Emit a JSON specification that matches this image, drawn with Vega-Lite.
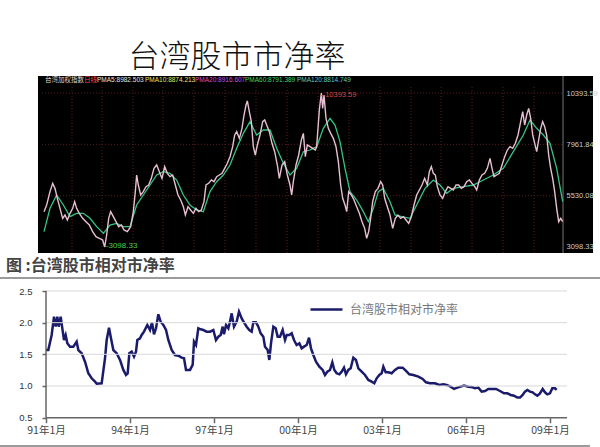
{
"$schema": "https://vega.github.io/schema/vega-lite/v6.json",
"width": 600, "height": 447, "autosize": {"type": "none"}, "padding": 0, "background": "white",
"config": {"view": {"stroke": null}},
"datasets": {
"price": [{"t":1991.000,"p":4772},{"t":1991.092,"p":5088},{"t":1991.207,"p":5720},{"t":1991.299,"p":6114},{"t":1991.379,"p":5877},{"t":1991.460,"p":5404},{"t":1991.552,"p":4930},{"t":1991.644,"p":4456},{"t":1991.724,"p":4614},{"t":1991.805,"p":4377},{"t":1991.897,"p":4693},{"t":1991.989,"p":4930},{"t":1992.057,"p":5246},{"t":1992.126,"p":4930},{"t":1992.218,"p":4693},{"t":1992.333,"p":4456},{"t":1992.448,"p":4298},{"t":1992.563,"p":4140},{"t":1992.678,"p":3825},{"t":1992.793,"p":3588},{"t":1992.908,"p":3509},{"t":1993.023,"p":3430},{"t":1993.092,"p":3098.33},{"t":1993.161,"p":3667},{"t":1993.230,"p":4456},{"t":1993.299,"p":4772},{"t":1993.391,"p":4535},{"t":1993.483,"p":4298},{"t":1993.575,"p":4061},{"t":1993.667,"p":4140},{"t":1993.759,"p":3904},{"t":1993.874,"p":3825},{"t":1993.989,"p":4061},{"t":1994.080,"p":4772},{"t":1994.149,"p":5720},{"t":1994.195,"p":6509},{"t":1994.253,"p":6035},{"t":1994.333,"p":5562},{"t":1994.425,"p":5720},{"t":1994.517,"p":5956},{"t":1994.609,"p":6035},{"t":1994.701,"p":6351},{"t":1994.793,"p":6825},{"t":1994.885,"p":6983},{"t":1994.977,"p":6667},{"t":1995.069,"p":6351},{"t":1995.161,"p":6904},{"t":1995.253,"p":6588},{"t":1995.345,"p":6430},{"t":1995.437,"p":6509},{"t":1995.529,"p":6035},{"t":1995.621,"p":5562},{"t":1995.713,"p":5325},{"t":1995.805,"p":5009},{"t":1995.874,"p":4614},{"t":1995.966,"p":5009},{"t":1996.057,"p":4851},{"t":1996.149,"p":4693},{"t":1996.241,"p":4930},{"t":1996.333,"p":4772},{"t":1996.425,"p":4851},{"t":1996.517,"p":5246},{"t":1996.586,"p":6035},{"t":1996.678,"p":6114},{"t":1996.770,"p":6272},{"t":1996.862,"p":6193},{"t":1996.954,"p":6430},{"t":1997.046,"p":6509},{"t":1997.138,"p":6588},{"t":1997.230,"p":6825},{"t":1997.322,"p":7062},{"t":1997.414,"p":7378},{"t":1997.506,"p":7851},{"t":1997.575,"p":8404},{"t":1997.644,"p":8562},{"t":1997.736,"p":8246},{"t":1997.828,"p":8720},{"t":1997.897,"p":9351},{"t":1997.966,"p":9825},{"t":1998.011,"p":10015},{"t":1998.080,"p":9509},{"t":1998.149,"p":9036},{"t":1998.218,"p":7851},{"t":1998.287,"p":7457},{"t":1998.356,"p":7930},{"t":1998.448,"p":8404},{"t":1998.540,"p":9036},{"t":1998.609,"p":9115},{"t":1998.678,"p":8878},{"t":1998.770,"p":8562},{"t":1998.862,"p":8009},{"t":1998.954,"p":7614},{"t":1999.046,"p":6983},{"t":1999.115,"p":6351},{"t":1999.207,"p":6983},{"t":1999.299,"p":7141},{"t":1999.391,"p":6509},{"t":1999.483,"p":6035},{"t":1999.540,"p":5562},{"t":1999.598,"p":6193},{"t":1999.690,"p":6983},{"t":1999.782,"p":7457},{"t":1999.874,"p":8167},{"t":1999.943,"p":8483},{"t":2000.011,"p":7378},{"t":2000.080,"p":7930},{"t":2000.172,"p":7851},{"t":2000.264,"p":7772},{"t":2000.356,"p":7693},{"t":2000.402,"p":7851},{"t":2000.494,"p":9588},{"t":2000.563,"p":10393.59},{"t":2000.609,"p":9667},{"t":2000.655,"p":10299},{"t":2000.724,"p":9194},{"t":2000.805,"p":8720},{"t":2000.885,"p":8483},{"t":2000.977,"p":8246},{"t":2001.069,"p":7851},{"t":2001.149,"p":7141},{"t":2001.230,"p":6035},{"t":2001.299,"p":5404},{"t":2001.379,"p":5088},{"t":2001.437,"p":4772},{"t":2001.506,"p":5720},{"t":2001.598,"p":5562},{"t":2001.690,"p":5325},{"t":2001.782,"p":5009},{"t":2001.874,"p":4693},{"t":2001.966,"p":4298},{"t":2002.057,"p":3983},{"t":2002.126,"p":3509},{"t":2002.195,"p":3825},{"t":2002.264,"p":4456},{"t":2002.333,"p":5246},{"t":2002.425,"p":5720},{"t":2002.517,"p":5877},{"t":2002.609,"p":6193},{"t":2002.678,"p":6035},{"t":2002.747,"p":5404},{"t":2002.839,"p":5009},{"t":2002.931,"p":4614},{"t":2003.023,"p":3983},{"t":2003.115,"p":4456},{"t":2003.207,"p":4614},{"t":2003.299,"p":4456},{"t":2003.391,"p":4535},{"t":2003.483,"p":4377},{"t":2003.575,"p":4219},{"t":2003.667,"p":4535},{"t":2003.759,"p":5088},{"t":2003.851,"p":5562},{"t":2003.943,"p":5798},{"t":2004.034,"p":6035},{"t":2004.126,"p":6351},{"t":2004.218,"p":6035},{"t":2004.287,"p":6667},{"t":2004.356,"p":6904},{"t":2004.425,"p":6588},{"t":2004.494,"p":6509},{"t":2004.563,"p":5956},{"t":2004.655,"p":5562},{"t":2004.747,"p":5404},{"t":2004.839,"p":5720},{"t":2004.931,"p":5956},{"t":2005.023,"p":5877},{"t":2005.115,"p":5798},{"t":2005.207,"p":6035},{"t":2005.299,"p":6035},{"t":2005.391,"p":5877},{"t":2005.483,"p":5956},{"t":2005.575,"p":6193},{"t":2005.667,"p":6272},{"t":2005.759,"p":6114},{"t":2005.851,"p":5956},{"t":2005.920,"p":5798},{"t":2006.011,"p":6272},{"t":2006.103,"p":6509},{"t":2006.195,"p":6588},{"t":2006.287,"p":6825},{"t":2006.379,"p":7299},{"t":2006.448,"p":6825},{"t":2006.517,"p":6430},{"t":2006.609,"p":6509},{"t":2006.701,"p":6588},{"t":2006.793,"p":6983},{"t":2006.885,"p":7378},{"t":2006.977,"p":7693},{"t":2007.069,"p":7851},{"t":2007.161,"p":7772},{"t":2007.253,"p":8009},{"t":2007.345,"p":8404},{"t":2007.437,"p":9036},{"t":2007.506,"p":9509},{"t":2007.575,"p":8878},{"t":2007.644,"p":9351},{"t":2007.713,"p":9667},{"t":2007.782,"p":9194},{"t":2007.851,"p":8404},{"t":2007.920,"p":8009},{"t":2007.989,"p":7614},{"t":2008.057,"p":8167},{"t":2008.126,"p":8720},{"t":2008.195,"p":9036},{"t":2008.264,"p":8799},{"t":2008.333,"p":8404},{"t":2008.402,"p":7457},{"t":2008.471,"p":6825},{"t":2008.540,"p":6351},{"t":2008.609,"p":5720},{"t":2008.678,"p":4930},{"t":2008.747,"p":4298},{"t":2008.816,"p":4456},{"t":2008.885,"p":4298}],
"ma": [{"t":1991.000,"p":3825},{"t":1991.207,"p":4930},{"t":1991.437,"p":5562},{"t":1991.667,"p":5088},{"t":1991.897,"p":4535},{"t":1992.126,"p":4693},{"t":1992.356,"p":4693},{"t":1992.586,"p":4456},{"t":1992.816,"p":4061},{"t":1993.046,"p":3746},{"t":1993.276,"p":4140},{"t":1993.506,"p":4219},{"t":1993.736,"p":4061},{"t":1993.966,"p":4061},{"t":1994.195,"p":5088},{"t":1994.425,"p":5562},{"t":1994.655,"p":6035},{"t":1994.885,"p":6509},{"t":1995.115,"p":6667},{"t":1995.345,"p":6588},{"t":1995.575,"p":6272},{"t":1995.805,"p":5562},{"t":1996.034,"p":5088},{"t":1996.264,"p":4851},{"t":1996.494,"p":4772},{"t":1996.724,"p":5720},{"t":1996.954,"p":6193},{"t":1997.184,"p":6509},{"t":1997.414,"p":6983},{"t":1997.644,"p":7772},{"t":1997.874,"p":8483},{"t":1998.103,"p":9036},{"t":1998.333,"p":8404},{"t":1998.563,"p":8641},{"t":1998.793,"p":8641},{"t":1999.023,"p":7772},{"t":1999.253,"p":7062},{"t":1999.483,"p":6509},{"t":1999.713,"p":6825},{"t":1999.943,"p":7614},{"t":2000.172,"p":7693},{"t":2000.402,"p":7851},{"t":2000.632,"p":8720},{"t":2000.862,"p":9194},{"t":2001.034,"p":8878},{"t":2001.207,"p":8088},{"t":2001.379,"p":6825},{"t":2001.552,"p":5720},{"t":2001.782,"p":5325},{"t":2002.011,"p":4772},{"t":2002.184,"p":4298},{"t":2002.356,"p":4930},{"t":2002.529,"p":5720},{"t":2002.701,"p":5877},{"t":2002.931,"p":5246},{"t":2003.103,"p":4614},{"t":2003.333,"p":4535},{"t":2003.621,"p":4456},{"t":2003.851,"p":5088},{"t":2004.138,"p":5877},{"t":2004.425,"p":6272},{"t":2004.655,"p":6035},{"t":2004.885,"p":5640},{"t":2005.115,"p":5877},{"t":2005.460,"p":5956},{"t":2005.805,"p":6035},{"t":2006.149,"p":6272},{"t":2006.494,"p":6509},{"t":2006.839,"p":6825},{"t":2007.184,"p":7614},{"t":2007.529,"p":8404},{"t":2007.759,"p":9115},{"t":2007.989,"p":8720},{"t":2008.218,"p":8404},{"t":2008.448,"p":8009},{"t":2008.678,"p":6825},{"t":2008.885,"p":5246}],
"pb": [{"t":1991.000,"v":1.568},{"t":1991.083,"v":1.568},{"t":1991.202,"v":1.805},{"t":1991.286,"v":2.095},{"t":1991.345,"v":1.937},{"t":1991.405,"v":2.095},{"t":1991.452,"v":1.937},{"t":1991.524,"v":2.095},{"t":1991.583,"v":1.911},{"t":1991.643,"v":1.726},{"t":1991.702,"v":1.805},{"t":1991.762,"v":1.674},{"t":1991.857,"v":1.621},{"t":1991.976,"v":1.621},{"t":1992.095,"v":1.700},{"t":1992.155,"v":1.568},{"t":1992.274,"v":1.516},{"t":1992.393,"v":1.384},{"t":1992.512,"v":1.200},{"t":1992.631,"v":1.121},{"t":1992.750,"v":1.068},{"t":1992.810,"v":1.037},{"t":1992.988,"v":1.042},{"t":1993.107,"v":1.437},{"t":1993.167,"v":1.726},{"t":1993.250,"v":1.921},{"t":1993.321,"v":1.753},{"t":1993.405,"v":1.568},{"t":1993.524,"v":1.516},{"t":1993.643,"v":1.411},{"t":1993.762,"v":1.253},{"t":1993.857,"v":1.174},{"t":1993.917,"v":1.200},{"t":1993.976,"v":1.516},{"t":1994.060,"v":1.542},{"t":1994.143,"v":1.463},{"t":1994.214,"v":1.542},{"t":1994.262,"v":1.726},{"t":1994.357,"v":1.753},{"t":1994.417,"v":1.805},{"t":1994.500,"v":1.858},{"t":1994.619,"v":1.963},{"t":1994.714,"v":1.884},{"t":1994.786,"v":2.005},{"t":1994.857,"v":1.816},{"t":1994.929,"v":1.911},{"t":1995.012,"v":2.132},{"t":1995.095,"v":2.016},{"t":1995.190,"v":1.963},{"t":1995.286,"v":1.884},{"t":1995.369,"v":1.726},{"t":1995.488,"v":1.568},{"t":1995.607,"v":1.489},{"t":1995.726,"v":1.479},{"t":1995.845,"v":1.447},{"t":1995.929,"v":1.437},{"t":1996.000,"v":1.253},{"t":1996.143,"v":1.253},{"t":1996.238,"v":1.332},{"t":1996.286,"v":1.700},{"t":1996.357,"v":1.647},{"t":1996.440,"v":1.911},{"t":1996.524,"v":1.895},{"t":1996.619,"v":1.884},{"t":1996.738,"v":1.858},{"t":1996.857,"v":1.858},{"t":1996.976,"v":1.884},{"t":1997.071,"v":1.726},{"t":1997.155,"v":1.779},{"t":1997.238,"v":1.805},{"t":1997.310,"v":1.937},{"t":1997.357,"v":1.816},{"t":1997.429,"v":1.963},{"t":1997.512,"v":1.911},{"t":1997.571,"v":2.016},{"t":1997.631,"v":2.147},{"t":1997.714,"v":1.937},{"t":1997.810,"v":2.016},{"t":1997.893,"v":2.174},{"t":1997.988,"v":2.068},{"t":1998.071,"v":2.005},{"t":1998.167,"v":1.937},{"t":1998.262,"v":1.884},{"t":1998.345,"v":1.858},{"t":1998.405,"v":2.005},{"t":1998.500,"v":2.005},{"t":1998.583,"v":1.937},{"t":1998.667,"v":1.832},{"t":1998.762,"v":1.779},{"t":1998.821,"v":1.621},{"t":1998.917,"v":1.568},{"t":1998.976,"v":1.411},{"t":1999.036,"v":1.674},{"t":1999.119,"v":1.937},{"t":1999.202,"v":1.911},{"t":1999.274,"v":1.779},{"t":1999.357,"v":1.779},{"t":1999.452,"v":1.884},{"t":1999.536,"v":1.726},{"t":1999.595,"v":1.805},{"t":1999.690,"v":1.805},{"t":1999.774,"v":1.832},{"t":1999.857,"v":1.726},{"t":1999.952,"v":1.647},{"t":2000.048,"v":1.674},{"t":2000.131,"v":1.595},{"t":2000.214,"v":1.621},{"t":2000.310,"v":1.647},{"t":2000.393,"v":1.763},{"t":2000.464,"v":1.595},{"t":2000.548,"v":1.489},{"t":2000.643,"v":1.384},{"t":2000.762,"v":1.305},{"t":2000.881,"v":1.253},{"t":2000.964,"v":1.174},{"t":2001.048,"v":1.226},{"t":2001.143,"v":1.253},{"t":2001.226,"v":1.374},{"t":2001.298,"v":1.253},{"t":2001.381,"v":1.200},{"t":2001.476,"v":1.184},{"t":2001.560,"v":1.226},{"t":2001.643,"v":1.289},{"t":2001.714,"v":1.184},{"t":2001.798,"v":1.253},{"t":2001.881,"v":1.279},{"t":2001.976,"v":1.447},{"t":2002.071,"v":1.411},{"t":2002.155,"v":1.279},{"t":2002.274,"v":1.226},{"t":2002.393,"v":1.174},{"t":2002.512,"v":1.095},{"t":2002.631,"v":1.068},{"t":2002.726,"v":1.042},{"t":2002.810,"v":1.121},{"t":2002.905,"v":1.174},{"t":2002.988,"v":1.200},{"t":2003.048,"v":1.305},{"t":2003.131,"v":1.216},{"t":2003.226,"v":1.216},{"t":2003.345,"v":1.200},{"t":2003.464,"v":1.253},{"t":2003.583,"v":1.289},{"t":2003.738,"v":1.289},{"t":2003.857,"v":1.237},{"t":2003.976,"v":1.184},{"t":2004.119,"v":1.174},{"t":2004.298,"v":1.147},{"t":2004.452,"v":1.111},{"t":2004.571,"v":1.058},{"t":2004.714,"v":1.042},{"t":2004.893,"v":1.042},{"t":2005.048,"v":1.016},{"t":2005.190,"v":1.026},{"t":2005.310,"v":1.016},{"t":2005.452,"v":0.989},{"t":2005.571,"v":0.953},{"t":2005.690,"v":0.974},{"t":2005.810,"v":0.989},{"t":2005.929,"v":1.005},{"t":2006.083,"v":0.989},{"t":2006.238,"v":0.979},{"t":2006.321,"v":0.963},{"t":2006.440,"v":0.974},{"t":2006.560,"v":0.911},{"t":2006.679,"v":0.921},{"t":2006.798,"v":0.953},{"t":2006.917,"v":0.953},{"t":2007.071,"v":0.953},{"t":2007.214,"v":0.921},{"t":2007.357,"v":0.884},{"t":2007.476,"v":0.884},{"t":2007.595,"v":0.858},{"t":2007.714,"v":0.847},{"t":2007.833,"v":0.816},{"t":2007.929,"v":0.816},{"t":2008.024,"v":0.858},{"t":2008.107,"v":0.911},{"t":2008.190,"v":0.937},{"t":2008.286,"v":0.911},{"t":2008.381,"v":0.900},{"t":2008.464,"v":0.868},{"t":2008.548,"v":0.847},{"t":2008.643,"v":0.884},{"t":2008.738,"v":0.953},{"t":2008.821,"v":0.900},{"t":2008.905,"v":0.868},{"t":2009.000,"v":0.884},{"t":2009.083,"v":0.963},{"t":2009.179,"v":0.963},{"t":2009.238,"v":0.937}]
},
"layer": [
{
"layer": [
{"data": {"values": [{}]}, "mark": {"type": "rect", "fill": "#000000"},
 "encoding": {"x": {"datum": 1990.793, "type": "quantitative", "scale": {"domain": [1989.483, 2010.172], "nice": false, "zero": false}, "axis": null}, "x2": {"datum": 2009.931}, "y": {"datum": 2814, "type": "quantitative", "scale": {"domain": [-6376.1, 14799.2], "nice": false, "zero": false}, "axis": {"orient": "right", "offset": -37, "zindex": 2, "values": [3098.33, 5530.08, 7961.84, 10393.59], "format": ".2f", "labelColor": "#cccccc", "labelFontSize": 7.5, "labelFont": "Liberation Sans", "labelPadding": 3, "domain": false, "ticks": false, "grid": false, "title": null}}, "y2": {"datum": 11199}}},
{"data": {"values": [{"g":1991.966},{"g":1993.000},{"g":1994.069},{"g":1995.103},{"g":1996.172},{"g":1997.241},{"g":1998.310},{"g":1999.379},{"g":2000.448},{"g":2001.517},{"g":2002.586},{"g":2003.655},{"g":2004.690},{"g":2005.759},{"g":2006.828},{"g":2007.897}]},
 "mark": {"type": "rule", "color": "#5e1c1c", "strokeDash": [1, 2], "strokeWidth": 1},
 "encoding": {"x": {"field": "g", "type": "quantitative", "axis": null}, "y": {"datum": 2814}, "y2": {"datum": 10700}}},
{"data": {"values": [{"h":5530.08},{"h":7961.84},{"h":10393.59}]},
 "mark": {"type": "rule", "color": "#5e1c1c", "strokeDash": [1, 2], "strokeWidth": 1},
 "encoding": {"y": {"field": "h", "type": "quantitative"}, "x": {"datum": 1990.93, "axis": null}, "x2": {"datum": 2008.897}}},
{"data": {"values": [{}]}, "mark": {"type": "rule", "color": "#777777", "strokeWidth": 1},
 "encoding": {"x": {"datum": 2008.897, "axis": null}, "y": {"datum": 2814}, "y2": {"datum": 11199}}},
{"data": {"name": "ma"}, "mark": {"type": "line", "color": "#34c486", "strokeWidth": 1.3},
 "encoding": {"x": {"field": "t", "type": "quantitative", "axis": null}, "y": {"field": "p", "type": "quantitative"}}},
{"data": {"name": "price"}, "mark": {"type": "line", "color": "#e8bfd3", "strokeWidth": 1.4},
 "encoding": {"x": {"field": "t", "type": "quantitative", "axis": null}, "y": {"field": "p", "type": "quantitative"}}},
{"data": {"values": [{}]}, "mark": {"type": "text", "text": "台湾股市市净率", "font": "Noto Sans CJK SC", "fontSize": 31, "fontWeight": 300, "color": "#111111", "align": "center", "baseline": "middle"},
 "encoding": {"x": {"datum": 1997.655, "axis": null}, "y": {"datum": 12051.6}}},
{"data": {"values": [{}]}, "mark": {"type": "text", "text": "台湾加权指数", "font": "Noto Sans CJK SC", "fontSize": 6.5, "color": "#dddddd", "align": "left", "baseline": "middle"},
 "encoding": {"x": {"datum": 1991.034, "axis": null}, "y": {"datum": 11009.4}}},
{"data": {"values": [{}]}, "mark": {"type": "text", "text": "日线", "font": "Noto Sans CJK SC", "fontSize": 6.5, "color": "#ff4a4a", "align": "left", "baseline": "middle"},
 "encoding": {"x": {"datum": 1992.379, "axis": null}, "y": {"datum": 11009.4}}},
{"data": {"values": [{}]}, "mark": {"type": "text", "text": "PMA5:8982.503", "font": "Liberation Sans", "fontSize": 6.5, "color": "#e6e6e6", "align": "left", "baseline": "middle"},
 "encoding": {"x": {"datum": 1992.828, "axis": null}, "y": {"datum": 11009.4}}},
{"data": {"values": [{}]}, "mark": {"type": "text", "text": "PMA10:8874.213", "font": "Liberation Sans", "fontSize": 6.5, "color": "#e6e36a", "align": "left", "baseline": "middle"},
 "encoding": {"x": {"datum": 1994.483, "axis": null}, "y": {"datum": 11009.4}}},
{"data": {"values": [{}]}, "mark": {"type": "text", "text": "PMA20:8916.607", "font": "Liberation Sans", "fontSize": 6.5, "color": "#d84fd8", "align": "left", "baseline": "middle"},
 "encoding": {"x": {"datum": 1996.207, "axis": null}, "y": {"datum": 11009.4}}},
{"data": {"values": [{}]}, "mark": {"type": "text", "text": "PMA60:8791.389", "font": "Liberation Sans", "fontSize": 6.5, "color": "#3fd46a", "align": "left", "baseline": "middle"},
 "encoding": {"x": {"datum": 1997.931, "axis": null}, "y": {"datum": 11009.4}}},
{"data": {"values": [{}]}, "mark": {"type": "text", "text": "PMA120:8814.749", "font": "Liberation Sans", "fontSize": 6.5, "color": "#5fc8c8", "align": "left", "baseline": "middle"},
 "encoding": {"x": {"datum": 1999.724, "axis": null}, "y": {"datum": 11009.4}}},
{"data": {"values": [{}]}, "mark": {"type": "text", "text": "–10393.59", "font": "Liberation Sans", "fontSize": 7.5, "color": "#d84848", "align": "left", "baseline": "middle"},
 "encoding": {"x": {"datum": 2000.552, "axis": null}, "y": {"datum": 10298.8}}},
{"data": {"values": [{}]}, "mark": {"type": "text", "text": "–3098.33", "font": "Liberation Sans", "fontSize": 8, "color": "#4fd04f", "align": "left", "baseline": "middle"},
 "encoding": {"x": {"datum": 1993.069, "axis": null}, "y": {"datum": 3145.7}}}
]
},
{
"layer": [
{"data": {"name": "pb"}, "mark": {"type": "line", "strokeWidth": 2.5},
 "encoding": {
  "x": {"field": "t", "type": "quantitative", "scale": {"domain": [1989.357, 2010.786], "nice": false, "zero": false}, "axis": {"orient": "bottom", "offset": -29.3, "zindex": 2, "values": [1991, 1994, 1997, 2000, 2003, 2006, 2009], "labelExpr": "slice(toString(datum.value), 2) + '年1月'", "domain": false, "grid": false, "ticks": true, "tickColor": "#666666", "tickSize": 5, "tickWidth": 1.5, "labelPadding": 3, "labelFontSize": 10.5, "labelColor": "#444444", "labelFont": "Noto Sans CJK SC", "title": null}},
  "y": {"field": "v", "type": "quantitative", "scale": {"domain": [0.036, 7.097], "nice": false, "zero": false}, "axis": {"orient": "left", "offset": -46, "zindex": 2, "values": [0.5, 1.0, 1.5, 2.0, 2.5], "format": ".1f", "domain": false, "grid": false, "ticks": true, "tickColor": "#666666", "tickSize": 4, "tickWidth": 1.5, "labelPadding": 10, "labelFontSize": 9.5, "labelColor": "#333333", "labelFont": "Liberation Sans", "title": null}},
  "color": {"datum": "台湾股市相对市净率", "scale": {"range": ["#1b1b6b"]}, "legend": {"orient": "none", "legendX": 309, "legendY": 292, "symbolType": "stroke", "symbolSize": 1024, "symbolStrokeWidth": 2.5, "labelFontSize": 12, "labelColor": "#777777", "labelFont": "Noto Sans CJK SC", "labelOffset": 6, "padding": 0, "title": null}}
 }},
{"data": {"values": [{"g":1.0},{"g":1.5},{"g":2.0},{"g":2.5}]}, "mark": {"type": "rule", "color": "#d9d9d9", "strokeWidth": 1},
 "encoding": {"y": {"field": "g", "type": "quantitative"}, "x": {"datum": 1991}, "x2": {"datum": 2009.607}}},
{"data": {"values": [{}]}, "mark": {"type": "rule", "color": "#7a7a7a", "strokeWidth": 1.6},
 "encoding": {"y": {"datum": 2.705}, "x": {"datum": 1989.357}, "x2": {"datum": 2010.786}}},
{"data": {"values": [{}]}, "mark": {"type": "rule", "color": "#7a7a7a", "strokeWidth": 1.6},
 "encoding": {"y": {"datum": 0.051}, "x": {"datum": 1989.357}, "x2": {"datum": 2010.429}}},
{"data": {"values": [{}]}, "mark": {"type": "rule", "color": "#666666", "strokeWidth": 1.5},
 "encoding": {"x": {"datum": 1991}, "y": {"datum": 0.5}, "y2": {"datum": 2.5}}},
{"data": {"values": [{}]}, "mark": {"type": "rule", "color": "#666666", "strokeWidth": 1.5},
 "encoding": {"y": {"datum": 0.5}, "x": {"datum": 1991}, "x2": {"datum": 2009.607}}},
{"data": {"values": [{}]}, "mark": {"type": "text", "text": "图 :台湾股市相对市净率", "font": "Noto Sans CJK SC", "fontSize": 16, "fontWeight": "bold", "color": "#444444", "align": "left", "baseline": "middle"},
 "encoding": {"x": {"datum": 1989.571}, "y": {"datum": 2.895}}}
]
}
],
"resolve": {"scale": {"x": "independent", "y": "independent"}, "axis": {"x": "independent", "y": "independent"}}
}
